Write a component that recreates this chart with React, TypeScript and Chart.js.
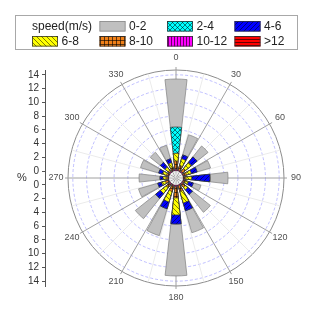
import React, { useEffect, useRef } from 'react';
import { Chart, registerables } from 'chart.js';

Chart.register(...registerables);

// ---------------- data ----------------
const directions = [0, 22.5, 45, 67.5, 90, 112.5, 135, 157.5, 180, 202.5, 225, 247.5, 270, 292.5, 315, 337.5];
const legendTitle = 'speed(m/s)';
const speedBins = ['0-2', '2-4', '4-6', '6-8', '8-10', '10-12', '>12'];
const speed0to2 = [6.98, 3.05, 2.04, 2.04, 2.62, 1.17, 3.34, 3.34, 7.56, 4.07, 3.78, 2.91, 3.05, 2.76, 1.89, 2.04];
const speed2to4 = [3.82, 0, 0, 0, 0, 0, 0, 0, 0, 0, 0, 0, 0, 0, 0, 0];
const speed4to6 = [0, 0.59, 1.02, 0.87, 2.66, 0.72, 0.86, 1.16, 1.31, 1.02, 0.88, 0.58, 0.43, 0.58, 0.87, 0.58];
const speed6to8 = [1.12, 1.01, 1.16, 0.72, 0.83, 0.44, 0.45, 1.75, 2.47, 1.6, 1.16, 0.58, 0.44, 0.58, 0.58, 0.72];
const speed8to10 = [1.24, 0.73, 0.58, 0.44, 0.29, 0.29, 0.58, 0.87, 1.67, 0.87, 0.58, 0.44, 0.29, 0.29, 0.29, 0.44];
const speed10to12 = [0.18, 0.12, 0.12, 0.12, 0.12, 0.12, 0.12, 0.12, 0.18, 0.12, 0.12, 0.12, 0.12, 0.12, 0.12, 0.12];
const speedOver12 = [0.05, 0.04, 0.04, 0.04, 0.04, 0.04, 0.04, 0.04, 0.05, 0.04, 0.04, 0.04, 0.04, 0.04, 0.04, 0.04];
const angleLabels = ['0', '30', '60', '90', '120', '150', '180', '210', '240', '270', '300', '330'];
const radialTickValues = [2, 4, 6, 8, 10, 12, 14];
const axisTickValues = [0, 2, 4, 6, 8, 10, 12, 14];
const axisTitle = '%';

const R_MIN = -1; // inner hole
const R_MAX = 14.7;
const BAR_DEG = 12.8;
const GAP_DEG = 360 / directions.length - BAR_DEG;
const FONT = '"Liberation Sans", Arial, Helvetica, sans-serif';

// series from center outward, with the legend index of each
const innerToOuter = [speedOver12, speed10to12, speed8to10, speed6to8, speed4to6, speed2to4, speed0to2];
const innerToOuterBin = [6, 5, 4, 3, 2, 1, 0];

function makePattern(bg: string, kind: string): CanvasPattern | string {
  if (kind === 'solid') return bg;
  const s = kind === 'vert' || kind === 'horiz' ? 3 : kind === 'grid' ? 4 : 5;
  const c = document.createElement('canvas');
  c.width = s;
  c.height = s;
  const g = c.getContext('2d') as CanvasRenderingContext2D;
  g.fillStyle = bg;
  g.fillRect(0, 0, s, s);
  g.strokeStyle = 'rgba(0,0,0,0.85)';
  g.lineWidth = kind === 'fwd' || kind === 'back' || kind === 'cross' ? 0.6 : 0.7;
  g.beginPath();
  if (kind === 'fwd' || kind === 'cross') {
    g.moveTo(-1, 1); g.lineTo(1, -1);
    g.moveTo(-1, s + 1); g.lineTo(s + 1, -1);
    g.moveTo(s - 1, s + 1); g.lineTo(s + 1, s - 1);
  }
  if (kind === 'back' || kind === 'cross') {
    g.moveTo(-1, -1); g.lineTo(s + 1, s + 1);
    g.moveTo(s - 1, -1); g.lineTo(s + 1, 1);
    g.moveTo(-1, s - 1); g.lineTo(1, s + 1);
  }
  if (kind === 'grid' || kind === 'vert') {
    g.moveTo(0.5, 0); g.lineTo(0.5, s);
  }
  if (kind === 'grid' || kind === 'horiz') {
    g.moveTo(0, 0.5); g.lineTo(s, 0.5);
  }
  g.stroke();
  const p = g.createPattern(c, 'repeat');
  return p || bg;
}

export default function App() {
  const ref = useRef<HTMLCanvasElement | null>(null);

  useEffect(() => {
    if (!ref.current) return;
    const fills = [
      makePattern('#c0c0c0', 'solid'),
      makePattern('#00ffff', 'cross'),
      makePattern('#0000ff', 'fwd'),
      makePattern('#ffff00', 'back'),
      makePattern('#f08018', 'grid'),
      makePattern('#ff00ff', 'vert'),
      makePattern('#ff0000', 'horiz'),
    ];
    const borders = ['#808080', '#333', '#333', '#333', '#333', '#333', '#333'];

    const labels = directions.flatMap((d) => [String(d), '']);
    const running = directions.map(() => 0);
    const datasets = innerToOuter.map((series, k) => {
      series.forEach((v, d) => { running[d] += v; });
      const cum = running.slice();
      const bin = innerToOuterBin[k];
      return {
        label: speedBins[bin],
        data: cum.flatMap((v) => [v, R_MIN]),
        backgroundColor: (c: any) => (c.dataIndex % 2 === 0 ? fills[bin] : 'rgba(0,0,0,0)'),
        borderColor: borders[bin],
        borderWidth: (c: any) => (c.dataIndex % 2 === 0 ? 0.7 : 0),
        angle: (c: any) => (c.dataIndex % 2 === 0 ? BAR_DEG : GAP_DEG),
      };
    });

    const rosePlugin = {
      id: 'roseGrid',
      beforeDatasetsDraw(chart: any) {
        const s = chart.scales.r;
        const ctx = chart.ctx as CanvasRenderingContext2D;
        const cx = s.xCenter, cy = s.yCenter, R = s.getDistanceFromCenterForValue(R_MAX);
        ctx.save();
        ctx.lineWidth = 1;
        for (let a = 15; a < 360; a += 30) {
          const t = (a * Math.PI) / 180;
          ctx.strokeStyle = '#ebebeb';
          ctx.beginPath();
          ctx.moveTo(cx, cy);
          ctx.lineTo(cx + R * Math.sin(t), cy - R * Math.cos(t));
          ctx.stroke();
        }
        angleLabels.forEach((lab, i) => {
          const t = (i * 30 * Math.PI) / 180;
          ctx.strokeStyle = '#a0a0a0';
          ctx.beginPath();
          ctx.moveTo(cx, cy);
          ctx.lineTo(cx + (R + 3) * Math.sin(t), cy - (R + 3) * Math.cos(t));
          ctx.stroke();
          ctx.fillStyle = '#505050';
          ctx.font = '9px ' + FONT;
          ctx.textAlign = 'center';
          ctx.textBaseline = 'middle';
          ctx.fillText(lab, cx + (R + 12) * Math.sin(t), cy - (R + 12) * Math.cos(t));
        });
        ctx.restore();
      },
      afterDatasetsDraw(chart: any) {
        const s = chart.scales.r;
        const ctx = chart.ctx as CanvasRenderingContext2D;
        const cx = s.xCenter, cy = s.yCenter;
        const r0 = s.getDistanceFromCenterForValue(0);
        ctx.save();
        ctx.fillStyle = '#fff';
        ctx.beginPath();
        ctx.arc(cx, cy, r0, 0, Math.PI * 2);
        ctx.fill();
        ctx.lineWidth = 1;
        for (let a = 0; a < 360; a += 15) {
          const t = (a * Math.PI) / 180;
          ctx.strokeStyle = a % 30 === 0 ? '#a0a0a0' : '#ebebeb';
          ctx.beginPath();
          ctx.moveTo(cx, cy);
          ctx.lineTo(cx + r0 * Math.sin(t), cy - r0 * Math.cos(t));
          ctx.stroke();
        }
        ctx.fillStyle = '#333';
        ctx.font = '11px ' + FONT;
        ctx.textAlign = 'center';
        ctx.textBaseline = 'middle';
        ctx.fillText(axisTitle, 22, cy);
        ctx.restore();
      },
    };

    const legendPlugin = {
      id: 'windLegend',
      afterDraw(chart: any) {
        const ctx = chart.ctx as CanvasRenderingContext2D;
        ctx.save();
        ctx.strokeStyle = '#a8a8a8';
        ctx.lineWidth = 1;
        ctx.strokeRect(15.5, 15.5, 282, 34);
        ctx.font = '12px ' + FONT;
        ctx.fillStyle = '#222';
        ctx.textBaseline = 'middle';
        ctx.textAlign = 'left';
        const colX = [32, 99.5, 167, 234.5];
        const rowY = [21, 36];
        ctx.fillText(legendTitle, 32, 27);
        speedBins.forEach((lab, i) => {
          const slot = i + 1;
          const col = slot % 4;
          const row = Math.floor(slot / 4);
          const x = colX[col];
          const y = rowY[row];
          ctx.fillStyle = fills[i] as any;
          ctx.fillRect(x, y, 26, 10.5);
          ctx.strokeStyle = i === 0 ? '#8a8a8a' : '#333';
          ctx.lineWidth = 0.8;
          ctx.strokeRect(x + 0.4, y + 0.4, 25.2, 9.7);
          ctx.fillStyle = '#222';
          ctx.fillText(lab, x + 29.5, y + 6);
        });
        ctx.restore();
      },
    };

    const chart = new Chart(ref.current, {
      type: 'polarArea',
      data: { labels, datasets: datasets as any },
      options: {
        responsive: true,
        maintainAspectRatio: false,
        animation: false,
        layout: { padding: { top: 70, right: 13, bottom: 33, left: 0 } },
        plugins: { legend: { display: false }, tooltip: { enabled: false } },
        scales: {
          r: {
            min: R_MIN,
            max: R_MAX,
            beginAtZero: false,
            startAngle: -BAR_DEG / 2,
            ticks: { display: false },
            pointLabels: { display: false },
            angleLines: { display: false },
            afterBuildTicks: (sc: any) => {
              sc.ticks = [...radialTickValues, R_MAX].map((v) => ({ value: v }));
            },
            grid: {
              circular: true,
              lineWidth: 1,
              color: (c: any) => (c.tick && c.tick.value >= R_MAX ? '#8c8c8c' : 'rgba(140,140,255,0.55)'),
            },
            border: {
              dash: (c: any) => (c.tick && c.tick.value >= R_MAX ? [] : [3, 2]),
            },
          } as any,
          y: {
            type: 'linear',
            position: 'left',
            min: -(R_MAX - R_MIN),
            max: R_MAX - R_MIN,
            afterBuildTicks: (sc: any) => {
              const vals: number[] = [];
              axisTickValues.forEach((v) => { vals.push(v - R_MIN); vals.push(-(v - R_MIN)); });
              vals.sort((a, b) => a - b);
              sc.ticks = vals.map((v) => ({ value: v }));
            },
            afterFit: (sc: any) => { sc.width = 45; },
            ticks: {
              autoSkip: false,
              padding: 3,
              color: '#333',
              font: { size: 10, family: FONT },
              callback: (v: any) => String(Math.round(Math.abs(Number(v)) + R_MIN)),
            },
            grid: { drawOnChartArea: false, drawTicks: true, tickLength: 3, color: '#555' },
            border: { display: true, color: '#555' },
          } as any,
        },
      },
      plugins: [rosePlugin, legendPlugin],
    });
    return () => chart.destroy();
  }, []);

  return (
    <div style={{ position: 'fixed', left: 0, top: 0, width: 320, height: 319, background: '#fff' }}>
      <canvas ref={ref} />
    </div>
  );
}
